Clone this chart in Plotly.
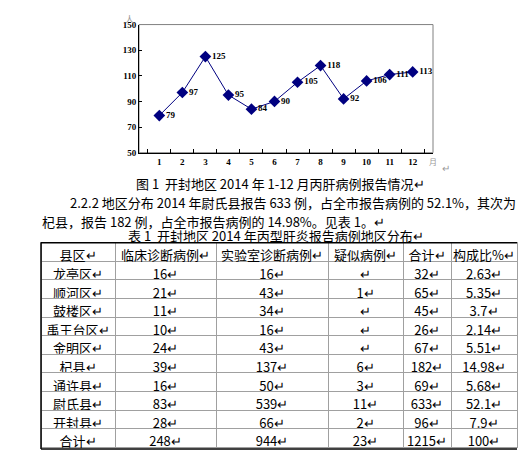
import plotly.graph_objects as go

W, H = 522, 459

# ---- data ----
months = [str(i) for i in range(1, 13)]
cases = [79, 97, 125, 95, 84, 90, 105, 118, 92, 106, 111, 113]
y_ticks = [50, 70, 90, 110, 130, 150]

table_header = ["县区", "临床诊断病例", "实验室诊断病例", "疑似病例", "合计", "构成比%"]
districts = ["龙亭区", "顺河区", "鼓楼区", "禹王台区", "金明区", "杞县", "通许县", "尉氏县", "开封县", "合计"]
clinical = ["16", "21", "11", "10", "24", "39", "16", "83", "28", "248"]
lab = ["16", "43", "34", "16", "43", "137", "50", "539", "66", "944"]
suspected = ["", "1", "", "", "", "6", "3", "11", "2", "23"]
total = ["32", "65", "45", "26", "67", "182", "69", "633", "96", "1215"]
ratio = ["2.63", "5.35", "3.7", "2.14", "5.51", "14.98", "5.68", "52.1", "7.9", "100"]

caption = "图 1  开封地区 2014 年 1-12 月丙肝病例报告情况↵"
para1 = "2.2.2 地区分布 2014 年尉氏县报告 633 例，占全市报告病例的 52.1%，其次为"
para2 = "杞县，报告 182 例，占全市报告病例的 14.98%。见表 1。↵"
table_title = "表 1  开封地区 2014 年丙型肝炎报告病例地区分布↵"


def px(x):
    return x / W


def py(y):
    return 1 - y / H


CJK = "Noto Sans CJK SC"
NAVY = "#000080"

fig = go.Figure()

fig.add_trace(go.Scatter(
    x=months, y=cases, mode="lines+markers+text",
    line=dict(color=NAVY, width=1),
    marker=dict(symbol="diamond", size=9, color=NAVY),
    text=[str(v) for v in cases], textposition="middle right",
    textfont=dict(family="Liberation Serif", size=9, color="black", weight="bold"),
    cliponaxis=False, showlegend=False, hoverinfo="skip",
))

# table
mark = "↵"
cols = [districts, clinical, lab, suspected, total, ratio]
top = 242.5
fig.add_trace(go.Table(
    domain=dict(x=[px(41), px(517)], y=[0, py(top)]),
    columnwidth=[74, 101, 112, 75, 48, 66],
    header=dict(values=[h + mark for h in table_header], height=19,
                align="center", fill_color="white",
                line=dict(color="#a0a0a0", width=1),
                font=dict(family=CJK, size=13, color="black")),
    cells=dict(values=[[v + mark for v in c] for c in cols], height=18.6,
               align="center", fill_color="white",
               line=dict(color="#a0a0a0", width=1),
               font=dict(family=CJK, size=13, color="black")),
))

x0, x1, y0, y1 = px(139), px(433), py(151), py(20)
bottom = 454
fig.update_layout(
    width=W, height=H, margin=dict(l=0, r=0, t=0, b=0),
    paper_bgcolor="white", plot_bgcolor="white",
    xaxis=dict(domain=[x0, x1], type="category", showline=True, linecolor="black",
               linewidth=1, ticks="inside", ticklen=4, tickcolor="black",
               tickson="boundaries", showgrid=False, zeroline=False,
               tickfont=dict(family="Liberation Serif", size=9, color="black", weight="bold")),
    yaxis=dict(domain=[y0, y1], range=[50, 150], tickvals=y_ticks,
               showline=True, linecolor="black", linewidth=1,
               ticks="inside", ticklen=3, tickcolor="black",
               showgrid=False, zeroline=False,
               tickfont=dict(family="Liberation Serif", size=9, color="black", weight="bold")),
    shapes=[
        dict(type="rect", xref="paper", yref="paper", x0=x0, x1=x1, y0=y0, y1=y1,
             line=dict(color="#808080", width=1), layer="below"),
        dict(type="line", xref="paper", yref="paper", x0=px(41), x1=px(517), y0=py(top + 0.5), y1=py(top + 0.5),
             line=dict(color="black", width=1.5)),
        dict(type="line", xref="paper", yref="paper", x0=px(41), x1=px(517), y0=py(bottom), y1=py(bottom),
             line=dict(color="black", width=1.5)),
        dict(type="line", xref="paper", yref="paper", x0=px(41), x1=px(41), y0=py(top), y1=py(bottom),
             line=dict(color="black", width=1.5)),
    ],
    annotations=[
        dict(text="人", x=px(123), y=py(6), xref="paper", yref="paper", showarrow=False,
             font=dict(family=CJK, size=9, color="#999999")),
        dict(text="月", x=px(439), y=py(160), xref="paper", yref="paper", showarrow=False,
             font=dict(family=CJK, size=8, color="#999999")),
        dict(text="↵", x=px(452), y=py(166), xref="paper", yref="paper", showarrow=False,
             font=dict(family=CJK, size=10, color="#999999")),
        dict(text=caption, x=px(280), y=py(182), xref="paper", yref="paper", showarrow=False,
             xanchor="center", font=dict(family=CJK, size=13, color="black")),
        dict(text=para1, x=px(68), y=py(202), xref="paper", yref="paper", showarrow=False,
             xanchor="left", font=dict(family=CJK, size=13, color="black")),
        dict(text=para2, x=px(40), y=py(221), xref="paper", yref="paper", showarrow=False,
             xanchor="left", font=dict(family=CJK, size=13, color="black")),
        dict(text=table_title, x=px(276), y=py(236), xref="paper", yref="paper", showarrow=False,
             xanchor="center", font=dict(family=CJK, size=13, color="black")),
    ],
)

fig.write_html("out.html", post_script="document.body.style.margin='0';",
               config={"displayModeBar": False, "staticPlot": True})
